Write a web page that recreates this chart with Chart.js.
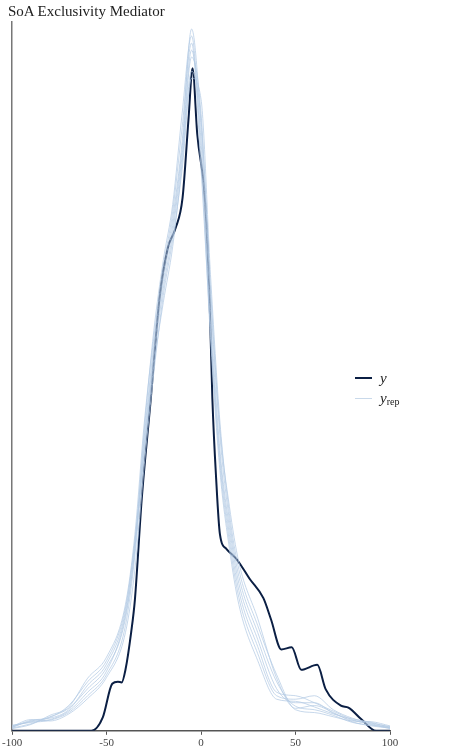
<!DOCTYPE html>
<html>
<head>
<meta charset="utf-8">
<script src="https://cdn.jsdelivr.net/npm/chart.js@4"></script>
<style>
  body { margin: 0; background: #fff; font-family: "Liberation Serif", serif; }
  #wrap { position: relative; width: 474px; height: 756px; }
  #title { position: absolute; left: 8px; top: 3px; font-size: 15px; color: #222; }
  #legend { position: absolute; left: 355px; top: 368px; font-size: 15px; color: #222; }
  .row { display: flex; align-items: center; height: 20px; }
  .sw { width: 17px; margin-right: 8px; }
</style>
</head>
<body>
<div id="wrap">
  <canvas id="c" width="474" height="756"></canvas>
  <div id="title">SoA Exclusivity Mediator</div>
  <div id="legend">
    <div class="row"><span class="sw" style="border-top:2px solid #0b1f44"></span><i>y</i></div>
    <div class="row"><span class="sw" style="border-top:1px solid #c9d9ea"></span><i>y</i><sub style="font-size:10px;margin-top:6px">rep</sub></div>
  </div>
</div>
<script>
// observed density
const obsX = [-100, -58, -52, -47, -44, -42, -40, -37, -35, -31.4, -26.6, -22, -17.7, -13.5, -9.8, -6.6, -4.5, -2, 2, 4.5, 6, 8, 10, 13.5, 19, 25.6, 33, 37, 42.5, 48, 53, 61.5, 66, 74, 78, 85, 92.6, 100];
const obsY = [0, 0, 1.9, 6.7, 7.0, 6.9, 8.7, 14, 18.7, 33, 47.3, 61.6, 68.7, 71.6, 75.9, 87.3, 94.4, 85, 75.9, 61.6, 47.3, 35.9, 28, 25.9, 24.4, 21.7, 18.9, 15.9, 11.6, 11.9, 8.7, 9.4, 5.9, 3.6, 3.3, 1.6, 0, 0];

// replicated densities share one grid
const repX = [-100, -90, -80, -70, -60, -50, -40, -35, -30, -25, -20, -15, -10, -5, 0, 5, 10, 15, 20, 30, 40, 50, 60, 70, 80, 90, 100];
const rep1 = [0.5, 1.5, 1.8, 3.0, 6.5, 9.5, 17, 27, 42, 55, 65, 73, 84, 100, 86, 60, 40, 29, 21, 13, 6, 4, 4, 2.5, 1.5, 1.0, 0.4];
const rep2 = [0.8, 1.2, 1.5, 2.6, 5.0, 8.0, 15, 25, 40, 53, 63, 71, 82, 96, 88, 62, 42, 30, 22, 14, 7, 3.5, 3.0, 2.2, 1.2, 0.8, 0.5];
const rep3 = [0.3, 0.9, 2.2, 3.4, 7.5, 10.5, 18, 28, 44, 56, 66, 74, 86, 98, 80, 57, 38, 27, 19, 11, 5, 4.5, 5.0, 3.0, 1.8, 1.1, 0.6];
const rep4 = [0.6, 1.6, 1.4, 2.4, 4.6, 7.6, 14, 23, 38, 51, 62, 70, 80, 93, 90, 65, 44, 31, 23, 15, 8, 3.0, 2.6, 2.0, 1.4, 1.3, 0.7];
const rep5 = [0.4, 1.0, 2.0, 3.2, 6.0, 9.0, 16, 26, 41, 54, 64, 72, 83, 97, 84, 58, 39, 28, 20, 12, 5.5, 5.0, 4.0, 2.8, 1.6, 0.9, 0.3];
const rep6 = [0.7, 1.3, 1.6, 2.8, 5.5, 8.5, 16.5, 26, 43, 57, 67, 75, 88, 99, 82, 56, 37, 26, 18, 10, 4.5, 4.2, 3.4, 2.4, 1.7, 1.2, 0.5];
const rep7 = [0.5, 1.4, 1.9, 3.6, 7.0, 10, 17.5, 27, 40, 52, 61, 69, 81, 94, 87, 63, 43, 32, 24, 16, 7.5, 3.2, 3.6, 2.6, 1.3, 0.7, 0.4];
const reps = [rep1, rep2, rep3, rep4, rep5, rep6, rep7];
const xTicks = [-100, -50, 0, 50, 100];

const pts = (xs, ys) => xs.map((x, i) => ({ x: x, y: ys[i] }));

const datasets = reps.map((r) => ({
  data: pts(repX, r), borderColor: "rgba(180,203,228,0.75)", borderWidth: 1,
  pointRadius: 0, cubicInterpolationMode: "monotone"
}));
datasets.push({
  data: pts(obsX, obsY), borderColor: "#0b1f44", borderWidth: 2,
  pointRadius: 0, cubicInterpolationMode: "monotone"
});

new Chart(document.getElementById("c"), {
  type: "line",
  data: { datasets },
  options: {
    responsive: false,
    animation: false,
    layout: { padding: { top: 22, right: 84, bottom: 4, left: 0 } },
    plugins: { legend: { display: false }, tooltip: { enabled: false } },
    scales: {
      x: {
        type: "linear", min: -100, max: 100,
        afterBuildTicks: (s) => { s.ticks = xTicks.map((v) => ({ value: v })); },
        grid: { drawOnChartArea: false, tickLength: 4, color: "#555" },
        border: { color: "#555", width: 1.5 },
        ticks: { color: "#444", font: { family: "Liberation Serif", size: 11 }, padding: 2 }
      },
      y: {
        min: 0, max: 101,
        grid: { display: false },
        border: { color: "#777", width: 1.5 },
        ticks: { display: false }
      }
    }
  }
});
</script>
</body>
</html>
